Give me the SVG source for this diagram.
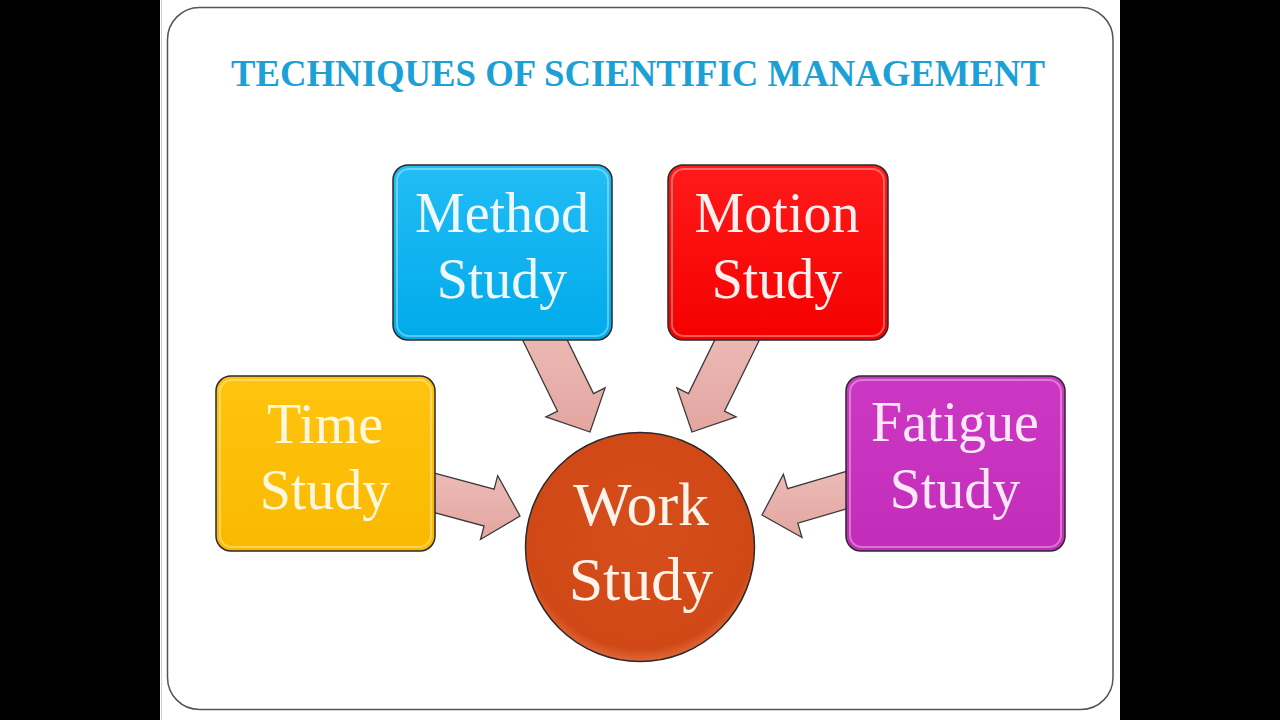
<svg xmlns="http://www.w3.org/2000/svg" width="1280" height="720" viewBox="0 0 1280 720">
  <defs>
    <style>
      .lbl { font-family: "Liberation Serif", "DejaVu Serif", serif; font-size: 56px; text-anchor: middle; }
      .box { stroke: #2a2a2a; stroke-width: 1.5; }
      .gloss { fill: none; stroke: #ffffff; stroke-opacity: 0.35; stroke-width: 2; }
      .arrow { fill: url(#gPink); stroke: #3a3a3a; stroke-width: 1.3; stroke-linejoin: miter; }
    </style>
    <linearGradient id="gBlue" x1="0" y1="0" x2="0" y2="1">
      <stop offset="0" stop-color="#22BDF5"/><stop offset="1" stop-color="#00AAEA"/>
    </linearGradient>
    <linearGradient id="gRed" x1="0" y1="0" x2="0" y2="1">
      <stop offset="0" stop-color="#FF1A1A"/><stop offset="1" stop-color="#F50000"/>
    </linearGradient>
    <linearGradient id="gYellow" x1="0" y1="0" x2="0" y2="1">
      <stop offset="0" stop-color="#FFC40F"/><stop offset="1" stop-color="#F9B900"/>
    </linearGradient>
    <linearGradient id="gMag" x1="0" y1="0" x2="0" y2="1">
      <stop offset="0" stop-color="#CC38C4"/><stop offset="1" stop-color="#C22CB8"/>
    </linearGradient>
    <radialGradient id="gOrange" cx="0.5" cy="0.45" r="0.55">
      <stop offset="0" stop-color="#D64E1A"/><stop offset="0.9" stop-color="#D04816"/><stop offset="1" stop-color="#E0683A"/>
    </radialGradient>
    <linearGradient id="gPink" x1="0" y1="0" x2="0" y2="1">
      <stop offset="0" stop-color="#EDBCB8"/><stop offset="1" stop-color="#E3A5A0"/>
    </linearGradient>
  </defs>

  <rect x="0" y="0" width="1280" height="720" fill="#000000"/>
  <rect x="160" y="0" width="960" height="720" fill="#FFFFFF"/>
  <line x1="161.5" y1="0" x2="161.5" y2="720" stroke="#d0d0d0" stroke-width="1"/>
  <rect id="panel" x="167.5" y="7.5" width="945.5" height="702" rx="32" ry="32" fill="#FFFFFF" stroke="#555555" stroke-width="1.5"/>

  <g id="title">
    <text x="638" y="86" font-family="Liberation Serif, DejaVu Serif, serif" font-weight="bold" font-size="38" fill="#1BA1D6" text-anchor="middle" textLength="814" lengthAdjust="spacingAndGlyphs">TECHNIQUES OF SCIENTIFIC MANAGEMENT</text>
  </g>

  <g id="connectors">
    <polygon class="arrow" points="522,338.8 557.5,411.2 545.9,416.9 590,432 605.1,387.9 593.5,393.6 558,321.2"/>
    <polygon class="arrow" points="760,338.8 724.5,411.2 736.1,416.9 692,432 676.9,387.9 688.5,393.6 724,321.2"/>
    <polygon class="arrow" points="418.7,468.9 494.1,489.2 497.7,475.7 520,516 480.5,539.5 484.1,526 408.7,505.7"/>
    <polygon class="arrow" points="862.4,466.6 787.6,488.6 783.4,474.3 762,515 802,537.5 797.8,523.2 872.6,501.2"/>
  </g>

  <g id="method">
    <rect class="box" x="393" y="165" width="219" height="175" rx="15" fill="url(#gBlue)"/>
    <rect class="gloss" x="397" y="169" width="211" height="167" rx="12"/>
    <text class="lbl" x="502" y="232" fill="#EEF9FF">Method</text>
    <text class="lbl" x="502" y="298" fill="#EEF9FF">Study</text>
  </g>

  <g id="motion">
    <rect class="box" x="668" y="165" width="220" height="175" rx="15" fill="url(#gRed)"/>
    <rect class="gloss" x="672" y="169" width="212" height="167" rx="12"/>
    <text class="lbl" x="777" y="232" fill="#FFEFEF">Motion</text>
    <text class="lbl" x="777" y="298" fill="#FFEFEF">Study</text>
  </g>

  <g id="time">
    <rect class="box" x="216" y="376" width="219" height="175" rx="15" fill="url(#gYellow)"/>
    <rect class="gloss" x="220" y="380" width="211" height="167" rx="12"/>
    <text class="lbl" x="325" y="443" fill="#FFF7DC">Time</text>
    <text class="lbl" x="325" y="509" fill="#FFF7DC">Study</text>
  </g>

  <g id="fatigue">
    <rect class="box" x="846" y="376" width="219" height="175" rx="15" fill="url(#gMag)"/>
    <rect class="gloss" x="850" y="380" width="211" height="167" rx="12"/>
    <text class="lbl" x="955" y="441" fill="#FCE8F8">Fatigue</text>
    <text class="lbl" x="955" y="508" fill="#FCE8F8">Study</text>
  </g>

  <g id="work">
    <circle cx="640" cy="547" r="114.5" fill="url(#gOrange)" stroke="#2a2a2a" stroke-width="1.5"/>
    <text class="lbl" x="641" y="525" font-size="62" fill="#FFF3EC" style="font-size:62px">Work</text>
    <text class="lbl" x="641" y="600" font-size="62" fill="#FFF3EC" style="font-size:62px">Study</text>
  </g>
</svg>
